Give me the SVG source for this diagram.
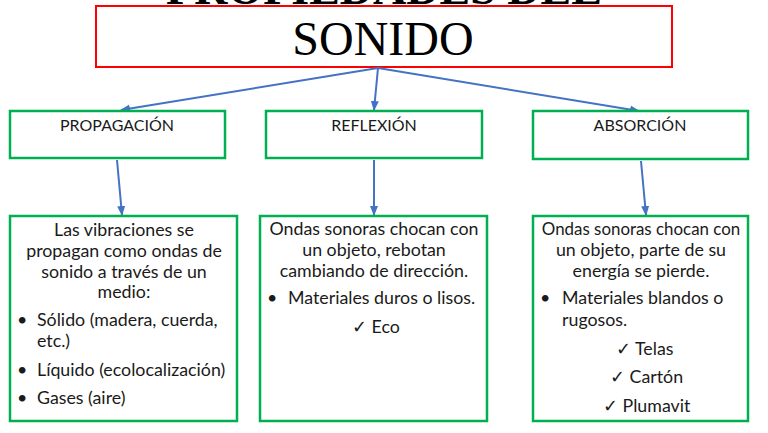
<svg xmlns="http://www.w3.org/2000/svg" width="768" height="433" viewBox="0 0 768 433">
<defs>
<marker id="ah" viewBox="0 0 10 10" refX="9" refY="5" markerWidth="5" markerHeight="5" orient="auto-start-reverse" markerUnits="strokeWidth">
<path d="M0,1 L10,5 L0,9 z" fill="#4472c4"/>
</marker>
<style>
.g{fill:#fff;stroke:#00b050;stroke-width:2.5}
.t{font-family:Lato,"Open Sans","Liberation Sans",sans-serif;fill:#1a1a1a}
.h{font-size:16px;text-anchor:middle}
.b{font-size:17.8px}
.s{font-size:16.9px}
.c{text-anchor:middle}
.ln{stroke:#4472c4;stroke-width:2;fill:none;marker-end:url(#ah)}
</style>
</defs>
<rect width="768" height="433" fill="#fff"/>
<text x="384" y="4" text-anchor="middle" font-family="'Liberation Serif',serif" font-weight="bold" font-size="46" fill="#000">PROPIEDADES DEL</text>
<g id="sonido">
<rect x="96" y="6" width="576" height="61" fill="#fff" stroke="#ff0000" stroke-width="2"/>
<text x="383" y="55" text-anchor="middle" font-family="'Liberation Serif',serif" font-size="48" fill="#000">SONIDO</text>
</g>
<g id="connectors">
<line class="ln" x1="378" y1="68" x2="121" y2="110"/>
<line class="ln" x1="378" y1="68" x2="374" y2="110"/>
<line class="ln" x1="378" y1="68" x2="639" y2="111"/>
<line class="ln" x1="117" y1="160" x2="122" y2="215"/>
<line class="ln" x1="374" y1="160" x2="374" y2="215"/>
<line class="ln" x1="641" y1="161" x2="646" y2="215"/>
</g>
<g id="propagacion">
<rect class="g" x="10" y="111" width="215" height="47"/>
<text class="t h" x="117" y="131">PROPAGACIÓN</text>
</g>
<g id="reflexion">
<rect class="g" x="266" y="111" width="216" height="47"/>
<text class="t h" x="374" y="131">REFLEXIÓN</text>
</g>
<g id="absorcion">
<rect class="g" x="533" y="111" width="215" height="48"/>
<text class="t h" x="640" y="131">ABSORCIÓN</text>
</g>
<g id="propagacion-detalle">
<rect class="g" x="10" y="216" width="227" height="205"/>
<text class="t b c" x="124" y="236">Las vibraciones se</text>
<text class="t b c" x="124" y="257">propagan como ondas de</text>
<text class="t b c" x="124" y="278">sonido a través de un</text>
<text class="t b c" x="124" y="298">medio:</text>
<text class="t b" x="17" y="326">•</text>
<text class="t b" x="37" y="326">Sólido (madera, cuerda,</text>
<text class="t b" x="37" y="347">etc.)</text>
<text class="t b" x="17" y="376">•</text>
<text class="t b" x="37" y="376">Líquido (ecolocalización)</text>
<text class="t b" x="17" y="404">•</text>
<text class="t b" x="37" y="404">Gases (aire)</text>
</g>
<g id="reflexion-detalle">
<rect class="g" x="260" y="216" width="227" height="205"/>
<text class="t b c" x="374" y="235">Ondas sonoras chocan con</text>
<text class="t b c" x="374" y="256">un objeto, rebotan</text>
<text class="t b c" x="374" y="277">cambiando de dirección.</text>
<text class="t b" x="267" y="304">•</text>
<text class="t b" x="288" y="304">Materiales duros o lisos.</text>
<text class="t b" x="352" y="333">✓ Eco</text>
</g>
<g id="absorcion-detalle">
<rect class="g" x="533" y="216" width="215" height="205"/>
<text class="t s c" x="641" y="235">Ondas sonoras chocan con</text>
<text class="t b c" x="641" y="256">un objeto, parte de su</text>
<text class="t b c" x="641" y="277">energía se pierde.</text>
<text class="t b" x="540" y="304">•</text>
<text class="t b" x="562" y="304">Materiales blandos o</text>
<text class="t b" x="562" y="326">rugosos.</text>
<text class="t b" x="616" y="355">✓ Telas</text>
<text class="t b" x="610" y="383">✓ Cartón</text>
<text class="t b" x="603" y="412">✓ Plumavit</text>
</g>
</svg>
